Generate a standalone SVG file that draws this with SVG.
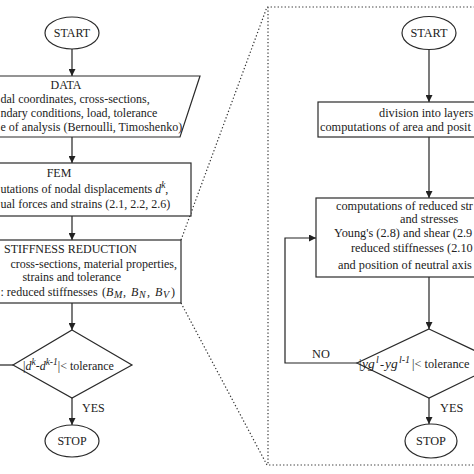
<svg xmlns="http://www.w3.org/2000/svg" width="474" height="474" viewBox="0 0 474 474">
<defs>
<marker id="ah" viewBox="0 0 10 10" refX="10" refY="5" markerWidth="7" markerHeight="7" orient="auto" markerUnits="userSpaceOnUse">
<path d="M0,0 L10,5 L0,10 Z" fill="#222"/>
</marker>
<style>
.n{fill:#fff;stroke:#2a2a2a;stroke-width:1.2}
.t{font-family:"Liberation Serif","Times New Roman",serif;font-size:12px;fill:#222}
.r{font-family:"Liberation Serif","Times New Roman",serif;font-size:12.3px;fill:#222}
.c{stroke:#222;stroke-width:1.2;fill:none}
.d{stroke:#333;stroke-width:1.2;fill:none;stroke-dasharray:1.3 2.2}
.i{font-style:italic}
</style>
</defs>
<rect width="474" height="474" fill="#fff"/>
<g id="zoom-outline">
<path class="d" d="M181,240 L267,7 L480,7 M268,7 L268,465 M181,303 L267,465 L480,465"/>
</g>
<g id="connectors">
<path class="c" d="M72,49 L72,76" marker-end="url(#ah)"/>
<path class="c" d="M72,137 L72,163" marker-end="url(#ah)"/>
<path class="c" d="M72,216 L72,240" marker-end="url(#ah)"/>
<path class="c" d="M72,303 L72,330" marker-end="url(#ah)"/>
<path class="c" d="M72,398 L72,425" marker-end="url(#ah)"/>
<path class="c" d="M13,365 L-5,365"/>
<path class="c" d="M429,50 L429,102" marker-end="url(#ah)"/>
<path class="c" d="M429,137 L429,198" marker-end="url(#ah)"/>
<path class="c" d="M429,277 L429,329" marker-end="url(#ah)"/>
<path class="c" d="M429,398 L429,424" marker-end="url(#ah)"/>
<path class="c" d="M357,363 L285,363 L285,238 L316,238" marker-end="url(#ah)"/>
<text class="t" x="82" y="412">YES</text>
<text class="r" x="440" y="412">YES</text>
<text class="r" x="312" y="358">NO</text>
</g>
<g id="start-left">
<ellipse class="n" cx="72" cy="33" rx="27" ry="16"/>
<text class="t" x="72" y="37" text-anchor="middle">START</text>
</g>
<g id="data">
<path class="n" d="M-30,76 L200,76 L180,137 L-50,137 Z"/>
<text class="t" x="66" y="89" text-anchor="middle">DATA</text>
<text class="t" x="0.5" y="103">dal coordinates, cross-sections,</text>
<text class="t" x="0.5" y="117">ndary conditions, load, tolerance</text>
<text class="t" x="0.5" y="131">e of analysis (Bernoulli, Timoshenko)</text>
</g>
<g id="fem">
<rect class="n" x="-40" y="163" width="231" height="53"/>
<text class="t" x="59" y="177" text-anchor="middle">FEM</text>
<text class="t" x="0.5" y="193">utations of nodal displacements <tspan class="i">d</tspan><tspan class="i" font-size="9.5" dy="-5">k</tspan><tspan dy="5">,</tspan></text>
<text class="t" x="0.5" y="208">ual forces and strains (2.1, 2.2, 2.6)</text>
</g>
<g id="stiffness-reduction">
<rect class="n" x="-40" y="240" width="221" height="63"/>
<text class="t" x="137" y="253" text-anchor="end">STIFFNESS REDUCTION</text>
<text class="t" x="177" y="268" text-anchor="end">cross-sections, material properties,</text>
<text class="t" x="121" y="281" text-anchor="end">strains and tolerance</text>
<text class="t" x="0.5" y="296">: reduced stiffnesses <tspan x="102">(</tspan><tspan class="i" x="106">B</tspan><tspan class="i" font-size="10" x="114" dy="2">M</tspan><tspan x="123" dy="-2">,</tspan><tspan class="i" x="131">B</tspan><tspan class="i" font-size="10" x="139" dy="2">N</tspan><tspan x="147" dy="-2">,</tspan><tspan class="i" x="155">B</tspan><tspan class="i" font-size="10" x="163" dy="2">V</tspan><tspan x="171" dy="-2">)</tspan></text>
</g>
<g id="check-left">
<path class="n" d="M72,330 L132,365 L72,398 L13,365 Z"/>
<text class="t" x="23" y="370">|<tspan class="i">d</tspan><tspan class="i" font-size="9.5" dy="-5">k</tspan><tspan dy="5">-</tspan><tspan class="i">d</tspan><tspan class="i" font-size="9.5" dy="-5">k-1</tspan><tspan dy="5">|&lt; tolerance</tspan></text>
</g>
<g id="stop-left">
<ellipse class="n" cx="72" cy="441" rx="27" ry="16"/>
<text class="t" x="72" y="445" text-anchor="middle">STOP</text>
</g>
<g id="start-right">
<ellipse class="n" cx="429" cy="33" rx="27" ry="16.5"/>
<text class="r" x="429" y="37" text-anchor="middle">START</text>
</g>
<g id="layers">
<rect class="n" x="318" y="102" width="220" height="35"/>
<text class="r" x="379" y="117">division into layers</text>
<text class="r" x="320" y="131">computations of area and posit</text>
</g>
<g id="reduced">
<rect class="n" x="316" y="198" width="222" height="79"/>
<text class="r" x="336" y="210">computations of reduced str</text>
<text class="r" x="400" y="223">and stresses</text>
<text class="r" x="334" y="237">Young's (2.8) and shear (2.9</text>
<text class="r" x="351" y="252">reduced stiffnesses (2.10</text>
<text class="r" x="338" y="269">and position of neutral axis</text>
</g>
<g id="check-right">
<path class="n" d="M429,329 L501,363 L429,398 L357,363 Z"/>
<text class="r" x="359" y="368">|<tspan class="i" font-size="13.5" x="362">yg</tspan><tspan class="i" font-size="10" x="376" dy="-5">l</tspan><tspan x="380" dy="5">-</tspan><tspan class="i" font-size="13.5" x="385">yg</tspan><tspan class="i" font-size="10" x="399" dy="-5">l-1</tspan><tspan x="412" dy="5">|&lt; tolerance</tspan></text>
</g>
<g id="stop-right">
<ellipse class="n" cx="431" cy="441" rx="26" ry="17"/>
<text class="r" x="431" y="445" text-anchor="middle">STOP</text>
</g>
</svg>
